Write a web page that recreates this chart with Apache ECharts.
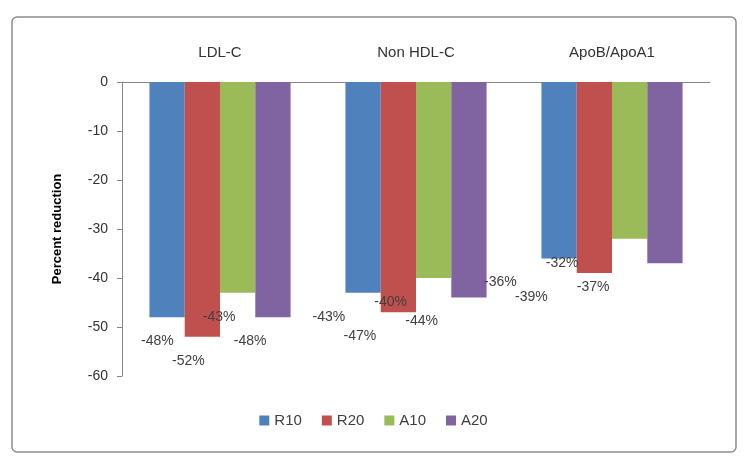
<!DOCTYPE html>
<html>
<head>
<meta charset="utf-8">
<script src="https://cdn.jsdelivr.net/npm/echarts@6/dist/echarts.min.js"></script>
<style>
  html, body { margin: 0; padding: 0; background: #fff; }
  #chart { width: 747px; height: 475px; }
</style>
</head>
<body>
<div id="chart"></div>
<script>
const categories = ['LDL-C', 'Non HDL-C', 'ApoB/ApoA1'];
const r10 = [-48, -43, -36];
const r20 = [-52, -47, -39];
const a10 = [-43, -40, -32];
const a20 = [-48, -44, -37];
const seriesNames = ['R10', 'R20', 'A10', 'A20'];
const colors = ['#4F81BD', '#C0504D', '#9BBB59', '#8064A2'];

const font = 'Liberation Sans, Arial, sans-serif';
const chart = echarts.init(document.getElementById('chart'));

function barSeries(name, values, color) {
    return {
        name: name,
        type: 'bar',
        data: values,
        barGap: '0%',
        barCategoryGap: '28%',
        itemStyle: {color: color},
        label: {
            show: true,
            position: 'bottom',
            distance: 17,
            formatter: '{c}%',
            fontFamily: font,
            fontSize: 14,
            color: '#404040'
        },
        // Excel placed the labels a bit left of the bars, more so to the right
        labelLayout: function (p) {
            const cx = p.rect.x + p.rect.width / 2;
            return {dx: -10 - 0.125 * (cx - 170)};
        }
    };
}

const option = {
    animation: false,
    graphic: [{
        type: 'rect',
        shape: {x: 12, y: 17, width: 724, height: 435, r: 5},
        style: {fill: 'none', stroke: '#8c8c8c', lineWidth: 1.5}
    }],
    grid: {left: 122, right: 37, top: 82, bottom: 99},
    legend: {
        data: seriesNames,
        top: 408,
        left: 'center',
        icon: 'rect',
        itemWidth: 10,
        itemHeight: 10,
        itemGap: 20,
        textStyle: {fontFamily: font, fontSize: 15, color: '#404040'}
    },
    xAxis: {
        type: 'category',
        position: 'top',
        data: categories,
        axisLine: {lineStyle: {color: '#868686'}},
        axisTick: {inside: true, length: 5, lineStyle: {color: '#868686'}},
        axisLabel: {margin: 22, fontFamily: font, fontSize: 15, color: '#333'}
    },
    yAxis: {
        type: 'value',
        min: -60,
        max: 0,
        interval: 10,
        name: 'Percent reduction',
        nameLocation: 'middle',
        nameGap: 58,
        nameTextStyle: {fontFamily: font, fontSize: 13, fontWeight: 'bold', color: '#000'},
        axisLine: {show: true, lineStyle: {color: '#868686'}},
        axisTick: {show: true, length: 5, lineStyle: {color: '#868686'}},
        splitLine: {show: false},
        axisLabel: {margin: 14, fontFamily: font, fontSize: 14, color: '#333'}
    },
    series: [
        barSeries(seriesNames[0], r10, colors[0]),
        barSeries(seriesNames[1], r20, colors[1]),
        barSeries(seriesNames[2], a10, colors[2]),
        barSeries(seriesNames[3], a20, colors[3])
    ]
};
chart.setOption(option);
</script>
</body>
</html>
